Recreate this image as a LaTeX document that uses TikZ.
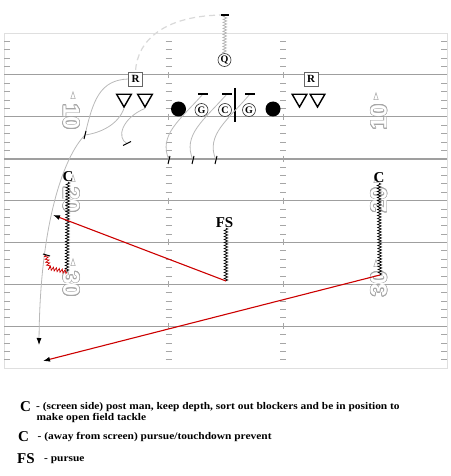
\documentclass[tikz,border=0pt]{standalone}
\usepackage{fontspec}
\setmainfont{Liberation Serif}
\newfontfamily\numfont{Liberation Sans}
\usepackage{contour}
\contourlength{0.6pt}
\usetikzlibrary{arrows.meta,decorations.pathmorphing,shapes.geometric}
\begin{document}
\begin{tikzpicture}[x=1pt,y=-1pt,
  yardline/.style={gray!75,line width=0.9pt},
  border/.style={gray!25,line width=0.8pt},
  tick/.style={gray!70,line width=0.6pt},
  yardnum/.style={font=\numfont\bfseries\fontsize{23}{23}\selectfont,inner sep=0pt,text=white},
  yardtip/.style={draw=gray!70,line width=0.5pt,isosceles triangle,shape border rotate=90,isosceles triangle apex angle=35,minimum height=7pt,minimum width=4pt,inner sep=0pt},
  lineman/.style={circle,draw=black!80,line width=0.6pt,fill=white,minimum size=13pt,inner sep=0pt,font=\bfseries\fontsize{10}{10}\selectfont},
  wide/.style={draw=black!60,line width=0.7pt,fill=white,minimum size=14pt,inner sep=0pt,font=\bfseries\fontsize{11}{11}\selectfont},
  tackle/.style={circle,fill=black,minimum size=15pt,inner sep=0pt},
  rusher/.style={regular polygon,regular polygon sides=3,shape border rotate=180,draw,line width=1.4pt,minimum size=17pt,inner sep=0pt},
  defender/.style={font=\bfseries\fontsize{15}{15}\selectfont,inner sep=0pt},
  route/.style={gray!55,line width=0.8pt},
  dropback/.style={gray!30,line width=1.2pt,dash pattern=on 6pt off 4pt},
  backpedal/.style={decorate,decoration={zigzag,segment length=3pt,amplitude=1.8pt},line width=0.7pt},
  pursuit/.style={red!80!black,line width=1.1pt,-{Latex[black,length=7pt,width=5pt]}},
  stop/.style={line width=1.4pt},
  legend/.style={anchor=base west,inner sep=0pt,xscale=1.12,font=\bfseries\fontsize{10.2}{12}\selectfont},
  legendkey/.style={anchor=base west,inner sep=0pt,font=\bfseries\fontsize{15}{15}\selectfont},
  ]
\useasboundingbox (0,0) rectangle (450,476);
% field
\draw[border] (4,368) -- (4,33) -- (447,33) -- (447,368) -- cycle;
\foreach \k in {1,2,4,5,6,7} \draw[yardline] (4,33+41.875*\k) -- (447,33+41.875*\k);
\draw[yardline,line width=1.8pt] (4,158.6) -- (447,158.6);
\foreach \k in {1,...,39}{
  \pgfmathtruncatemacro\r{mod(\k,5)}
  \ifnum\r=0
    \draw[tick] (168.5,33+8.375*\k-3) -- ++(0,6) (283,33+8.375*\k-3) -- ++(0,6);
  \else
    \draw[tick] (4,33+8.375*\k) -- ++(6,0) (165.5,33+8.375*\k) -- ++(6,0)
                (280,33+8.375*\k) -- ++(6,0) (441,33+8.375*\k) -- ++(6,0);
  \fi}
\foreach \y/\n in {117/1,200/2,284/3}{
  \node[yardnum,rotate=-90] (numl\n) at (71,\y) {\contour{gray!70}{\n0}};
  \node[yardtip] (tipl\n) at (73,\y-20) {};
  \node[yardnum,rotate=90] (numr\n) at (379,\y) {\contour{gray!70}{\n0}};
  \node[yardtip] (tipr\n) at (376,\y-19) {};
}
% offense
\node[lineman] (qb) at (224.5,60) {Q};
\coordinate (qbar) at (225,15);
\node[wide] (rl) at (135.5,79) {R};
\node[wide] (rr) at (311,79) {R};
\node[rusher] (el1) at (124,98.5) {};
\node[rusher] (el2) at (145,98.5) {};
\node[rusher] (er1) at (299.5,98.5) {};
\node[rusher] (er2) at (317.5,98.5) {};
\node[tackle] (tl) at (178.5,109) {};
\node[tackle] (tr) at (273,109) {};
\node[lineman] (gl) at (201.5,110) {G};
\node[lineman] (cc) at (225,110) {C};
\node[lineman] (gr) at (249,110) {G};
\draw[line width=1.4pt] (235,88) -- (235,122);
\coordinate (glbar) at (203,94);
\coordinate (ccbar) at (227,94);
\coordinate (grbar) at (250,94);
\coordinate (blk1) at (169,160);
\coordinate (blk2) at (193,160);
\coordinate (blk3) at (216,160);
\coordinate (blk4) at (85,135);
\coordinate (blk5) at (127,143.5);
\coordinate (rbend) at (39,345);
\draw[route] (glbar) .. controls (180,120) and (158,135) .. (blk1);
\draw[route] (ccbar) .. controls (204,120) and (182,135) .. (blk2);
\draw[route] (grbar) .. controls (228,120) and (205,135) .. (blk3);
\draw[route] (el1.south) .. controls (118,125) and (100,133) .. (blk4);
\draw[route] (el2.south) .. controls (122,118) and (116,138) .. (blk5);
\draw[route,-{Latex[black,length=7pt,width=5pt]}] (rl.west) .. controls (100,80) and (93,100) .. (blk4)
  .. controls (65,155) and (40,220) .. (rbend);
\foreach \b in {glbar,ccbar,grbar} \draw[stop] (\b) ++(-5,0) -- ++(10,0);
\foreach \b in {blk1,blk2,blk3,blk4} \draw[line width=1pt] (\b) ++(-1,4) -- ++(2,-8);
\draw[line width=1pt] (blk5) ++(-4,2) -- ++(8,-4);
\draw[backpedal,gray!60] (qb.north) -- (qbar);
\draw[dropback] (qbar) .. controls (165,15) and (137,40) .. (rl.north);
\draw[stop] (qbar) ++(-4,0) -- ++(8,0);
% defense
\node[defender] (cl) at (68,177) {C};
\coordinate (clend) at (67,272);
\coordinate (clmid) at (49,268);
\coordinate (clstop) at (46,255);
\draw[backpedal] (cl.south) -- (clend);
\draw[backpedal,red!80!black] (clend) -- (clmid) -- (clstop);
\draw[line width=1pt] (clstop) ++(-3,-1) -- ++(7,2);
\node[defender] (cr) at (379,178) {C};
\coordinate (crend) at (380,275);
\coordinate (crarr) at (43,361);
\draw[backpedal] (cr.south) -- (crend);
\draw[pursuit] (crend) -- (crarr);
\node[defender] (fs) at (224.5,223) {FS};
\coordinate (fsend) at (226,281);
\coordinate (fsarr) at (53,215);
\draw[backpedal] (fs.south -| fsend) -- (fsend);
\draw[pursuit] (fsend) -- (fsarr);
% legend
\node[legendkey] (key1) at (20,411) {C};
\node[legend] (txt1) at (36,409.5) {- (screen side) post man, keep depth, sort out blockers and be in position to};
\node[legend] (txt1b) at (36.5,420.5) {make open field tackle};
\node[legendkey] (key2) at (18,441) {C};
\node[legend] (txt2) at (37.5,439.5) {- (away from screen) pursue/touchdown prevent};
\node[legendkey] (key3) at (17,463) {FS};
\node[legend] (txt3) at (44,461.5) {- pursue};
\end{tikzpicture}
\end{document}
